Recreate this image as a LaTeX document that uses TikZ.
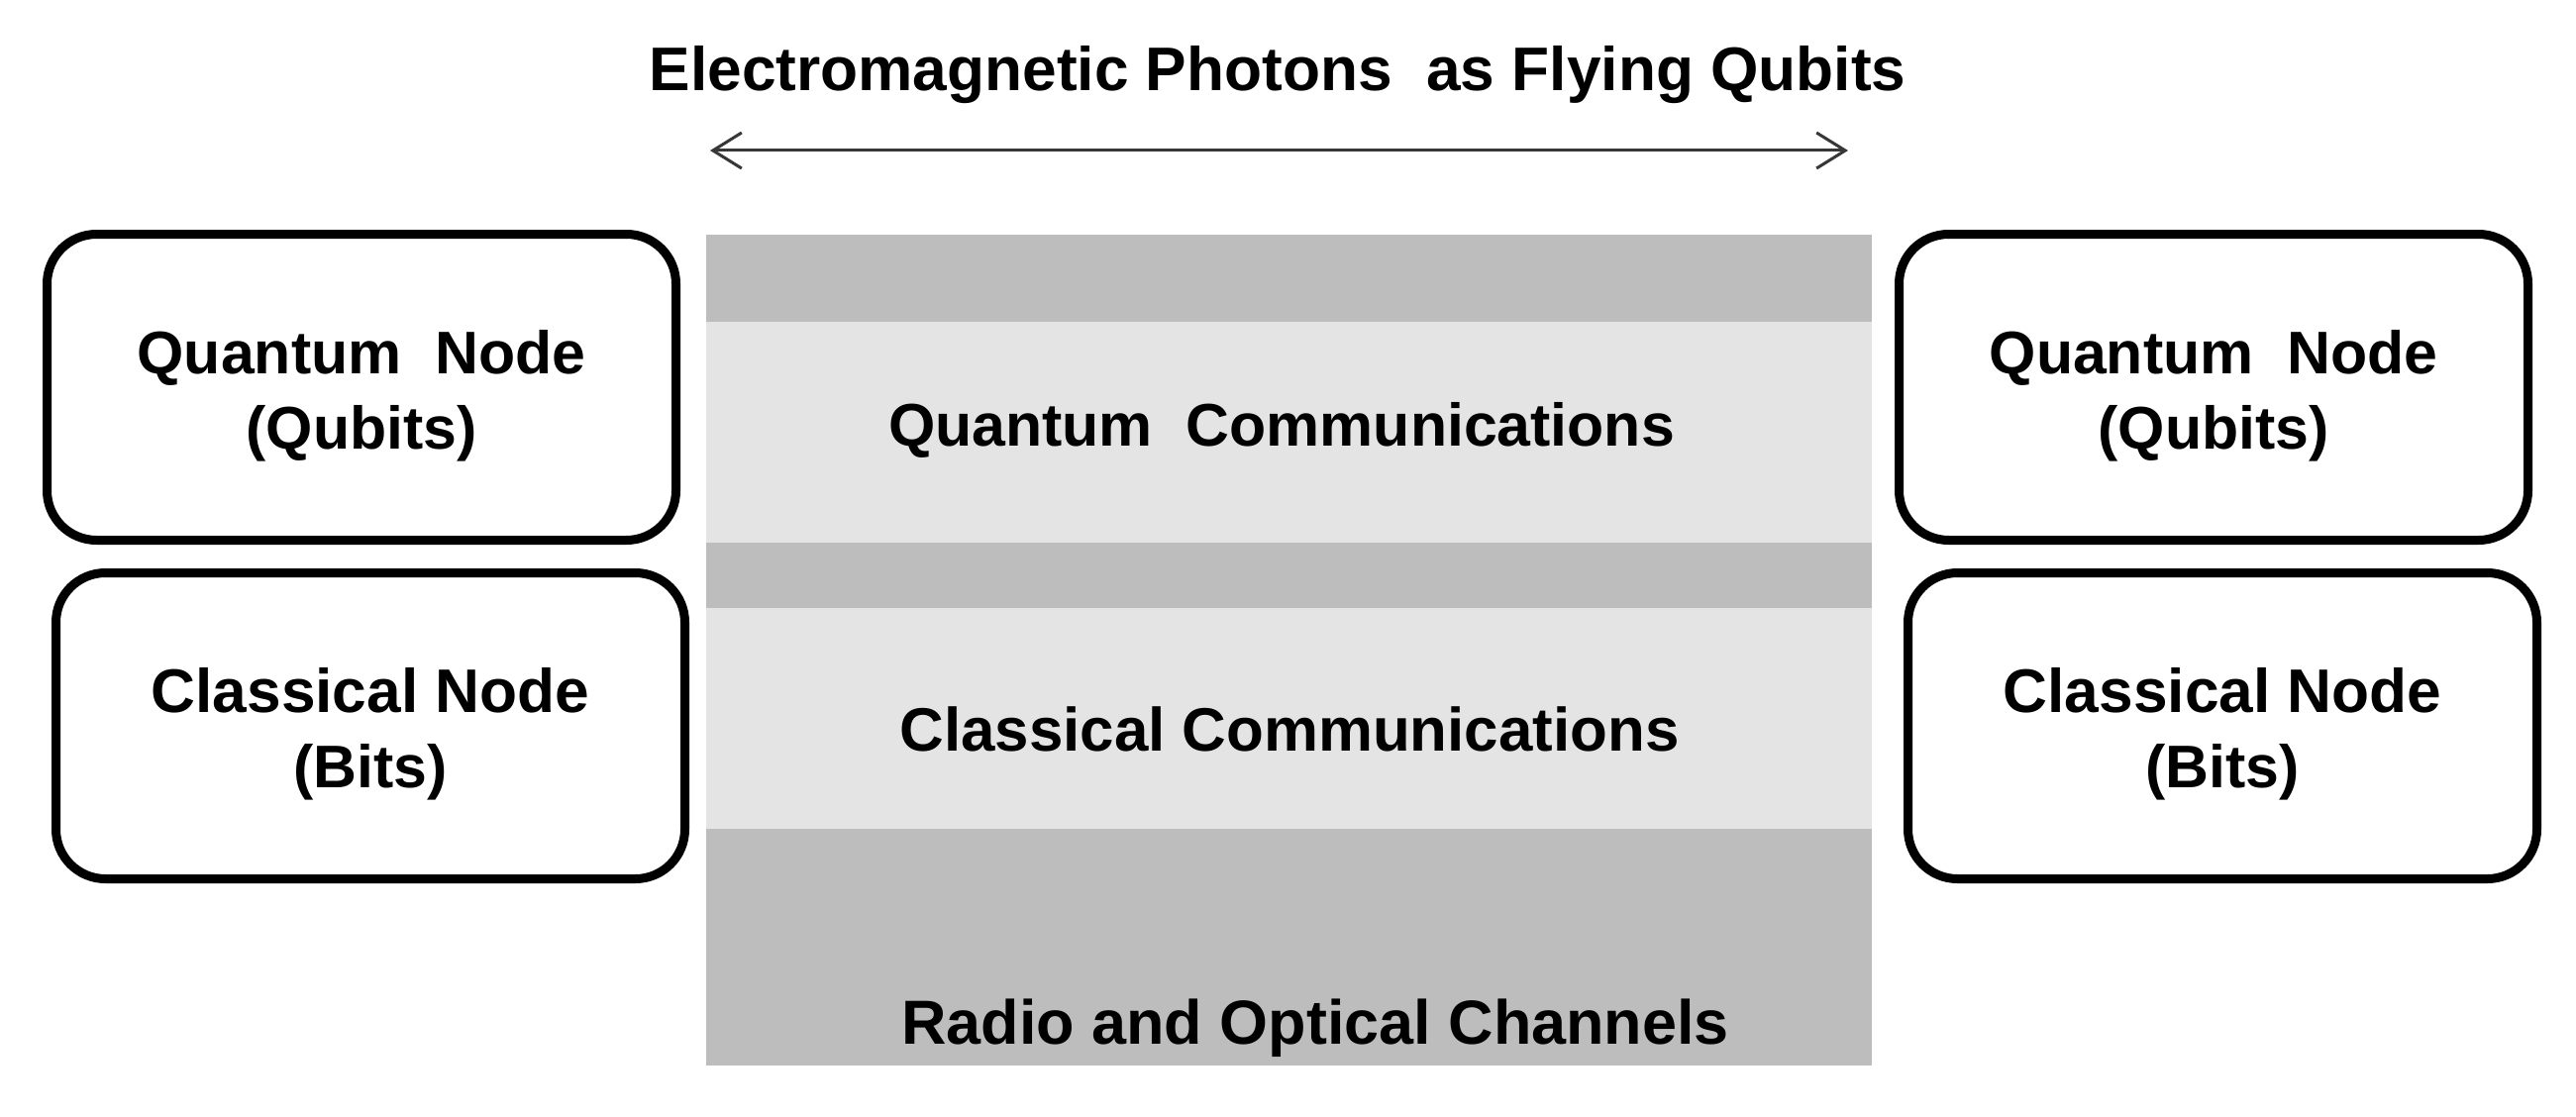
\documentclass[tikz,border=0pt]{standalone}
\usepackage{fontspec}
\setmainfont{Liberation Sans}
\usetikzlibrary{arrows.meta}

\definecolor{bandDark}{RGB}{189,189,189}
\definecolor{bandLight}{RGB}{228,228,228}
\definecolor{waveGray}{RGB}{55,55,55}

\begin{document}
\begin{tikzpicture}[x=0.1mm, y=-0.1mm, font=\bfseries\fontsize{17.3}{21.6}\selectfont,
  nodebox/.style={draw, line width=0.9mm, rounded corners=5mm, minimum width=63.5mm, minimum height=30.9mm, align=center, inner sep=0pt, text height=12.4mm, text depth=0mm},
  bandtext/.style={anchor=base}]
\useasboundingbox (0,0) rectangle (2601,1128);

\foreach \ya/\yb/\c in {237/325/bandDark, 325/548/bandLight, 548/614/bandDark, 614/837/bandLight, 837/1076/bandDark}
  \fill[\c] (713,\ya) rectangle (1890,\yb);

\node[bandtext] (qcomm) at (1294,450) {Quantum~~Communications};
\node[bandtext, font=\bfseries\fontsize{17.6}{21.6}\selectfont] (ccomm) at (1302,758) {Classical Communications};
\node[bandtext, font=\bfseries\fontsize{17.9}{21.6}\selectfont] (chan) at (1328,1054) {Radio and Optical Channels};

\node[anchor=base, font=\bfseries\fontsize{17.7}{21}\selectfont] (title) at (1290,92) {Electromagnetic Photons~~as Flying Qubits};
\coordinate (waveL) at (717,152);
\coordinate (waveR) at (1866,152);
\draw[waveGray, line width=0.3mm, {Straight Barb[length=2.9mm,width=3.6mm]}-{Straight Barb[length=2.9mm,width=3.6mm]}] (waveL) -- (waveR);

\foreach \n/\x/\y/\t in {qnodeL/365/391/{Quantum~~Node\\(Qubits)}, cnodeL/374/733/{\fontsize{17.7}{21.6}\selectfont Classical Node\\(Bits)},
                        qnodeR/2235/391/{Quantum~~Node\\(Qubits)}, cnodeR/2244/733/{\fontsize{17.7}{21.6}\selectfont Classical Node\\(Bits)}}
  \node[nodebox] (\n) at (\x,\y) {\t};
\end{tikzpicture}
\end{document}
